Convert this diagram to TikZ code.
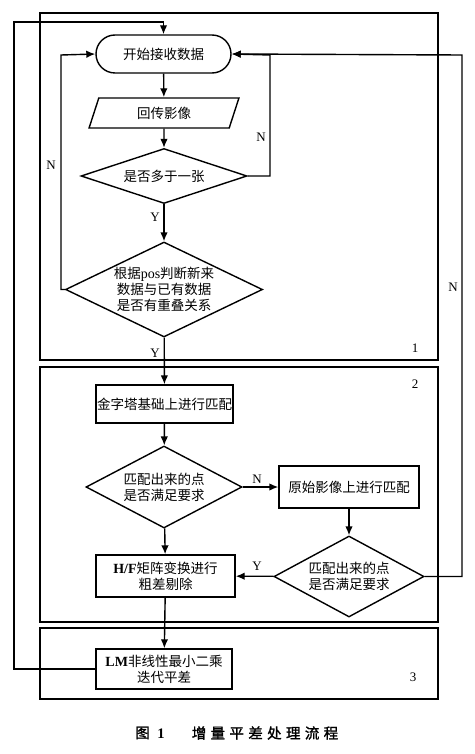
\documentclass[tikz,border=0pt]{standalone}
\usepackage{fontspec}
\setmainfont{Liberation Serif}
\newfontfamily\cjk{Noto Sans CJK SC}
\newfontfamily\capfont[FakeBold=1.5,LetterSpace=30]{Noto Sans CJK SC}
\usetikzlibrary{shapes.geometric,arrows.meta}
\begin{document}
\begin{tikzpicture}[x=1pt,y=-1pt,
  every node/.style={font=\fontsize{13.5}{16}\selectfont\cjk, align=center, inner sep=0pt},
  ln/.style={line width=1.4pt},
  arr/.style={ln,-{Latex[length=9pt,width=7.5pt]}},
  frame/.style={draw,line width=1.5pt},
  box/.style={draw,line width=1.4pt,minimum width=#1},
  dia/.style={draw,diamond,line width=1.4pt,inner sep=0pt},
  lab/.style={font=\fontsize{13}{15}\selectfont\rmfamily}
]
\useasboundingbox (0,0) rectangle (474,754);
% frames
\draw[frame] (40,13) rectangle (438,360);
\draw[frame] (40,367) rectangle (438,622);
\draw[frame] (40,628) rectangle (438,699);
\node[lab] (f1) at (415,348) {1};
\node[lab] (f2) at (415,384) {2};
\node[lab] (f3) at (413,677) {3};
% nodes
\node[draw,line width=1.4pt,rounded corners=19pt,minimum width=135pt,minimum height=38pt] (start) at (163.5,54) {开始接收数据};
\node[draw,line width=1.4pt,trapezium,trapezium left angle=72,trapezium right angle=108,minimum width=150pt,minimum height=30pt,trapezium stretches=true] (para) at (164,113) {回传影像};
\node[dia,minimum width=166pt,minimum height=55pt] (d1) at (164,176) {};
\node (d1t) at (d1) {是否多于一张};
\node[dia,minimum width=197pt,minimum height=95pt] (d2) at (164,289.5) {};
\node (d2t) at (d2) {根据{\rmfamily\fontsize{14}{16}\selectfont pos}判断新来\\数据与已有数据\\是否有重叠关系};
\node[box=137pt,minimum height=38pt] (b1) at (164.5,404) {金字塔基础上进行匹配};
\node[dia,minimum width=156pt,minimum height=82pt] (d3) at (164,487) {};
\node (d3t) at (d3) {匹配出来的点\\是否满足要求};
\node[box=140pt,minimum height=42pt] (b2) at (349,487) {原始影像上进行匹配};
\node[dia,minimum width=150pt,minimum height=81pt] (d4) at (349,576.5) {};
\node (d4t) at (d4) {匹配出来的点\\是否满足要求};
\node[box=139pt,minimum height=42pt] (b3) at (165.5,576) {{\rmfamily\bfseries\fontsize{14}{16}\selectfont H/F}矩阵变换进行\\粗差剔除};
\node[box=136pt,minimum height=40pt] (b4) at (164,669) {{\rmfamily\bfseries\fontsize{14}{16}\selectfont LM}非线性最小二乘\\迭代平差};
% corner coordinates
\coordinate (c1a) at (14,669);
\coordinate (c1b) at (14,22);
\coordinate (c1c) at (163.5,22);
\coordinate (c2a) at (61,289.5);
\coordinate (c2b) at (61,55);
\coordinate (c3a) at (270,176);
\coordinate (c3b) at (270,55);
\coordinate (c4a) at (462,576.5);
\coordinate (c4b) at (462,55);
% connectors
\draw[arr] (start) -- (para);
\draw[arr] (para) -- (d1);
\draw[arr] (d1) -- (d2);
\draw[arr] (d2) -- (b1);
\draw[arr] (b1) -- (d3);
\draw[arr] (d3) -- (b3);
\draw[arr] (d3) -- (b2);
\draw[arr] (b2) -- (d4);
\draw[arr] (d4) -- (b3);
\draw[arr] (b3) -- (b4);
\draw[arr] (b4.west) -- (c1a) -- (c1b) -- (c1c) -- (start.north);
\draw[arr] (d2.west) -- (c2a) -- (c2b) -- (start.west);
\draw[arr] (d1.east) -- (c3a) -- (c3b) -- (start.east);
\draw[arr] (d4.east) -- (c4a) -- (c4b) -- (start.east);
% branch labels
\node[lab] (n1) at (261,137) {N};
\node[lab] (n2) at (51,165) {N};
\node[lab] (n3) at (453,287) {N};
\node[lab] (n4) at (257,479) {N};
\node[lab] (y1) at (155,217) {Y};
\node[lab] (y2) at (155,353) {Y};
\node[lab] (y3) at (257,566) {Y};
% caption
\node[font=\fontsize{14.5}{16}\selectfont\capfont] (cap1) at (150,733) {图 {\rmfamily\bfseries 1}};
\node[font=\fontsize{14.5}{16}\selectfont\capfont] (cap2) at (265,733) {增量平差处理流程};
\end{tikzpicture}
\end{document}
